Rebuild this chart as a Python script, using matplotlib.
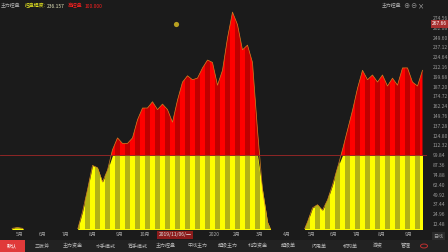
import numpy as np
import matplotlib
matplotlib.use("Agg")
import matplotlib.pyplot as plt
from matplotlib.path import Path

plt.rcParams['font.family'] = ['Noto Sans CJK SC', 'DejaVu Sans']

# control level, one value every ~5 px (mid-Apr 2019 .. mid-Sep 2020)
level = [0, 0, 7, 8, 7, 0, 0, 0, 0, 0, 0, 0, 0, 0, 0, 5,
         28, 56, 87, 84, 66, 81, 107, 122, 115, 115, 122, 145,
         160, 160, 168, 158, 165, 158, 142, 170, 193, 201, 196, 198,
         211, 221, 218, 189, 208, 249, 282, 266, 234, 240, 218, 132,
         56, 15, 0, 0, 0, 0, 0, 0, 0, 15, 33, 37, 30, 43, 62, 84,
         107, 132, 157, 185, 208, 196, 202, 193, 202, 188, 198, 189,
         211, 211, 193, 188, 208]
threshold = 100.0
marker_pos = (34.6, 267)

month_pos = [3.4, 8, 12.6, 18, 23.4, 28.4, 42.4, 46.8, 51.4, 56.8, 61.8, 66.2, 70.8, 75.8, 81.2]
month_labels = ['5月', '6月', '7月', '8月', '9月', '10月', '2020', '2月', '3月', '4月',
                '5月', '6月', '7月', '8月', '9月']
cursor_date = '2019/11/06/一'
cursor_pos = 34.5

yticks = [round(12.48 * k, 2) for k in range(1, 23)]
cursor_value = '267.66'

tabs = ['三板斧', '主力资金', '水手模式', '筹手模式', '主力控盘', '中线主力', '超级主力',
        '北向资金', '超级单', '闪电单', '机构单', '游资', '管理']
tab_px = [42, 73, 106, 138, 166, 197, 228, 258, 288, 319, 350, 378, 406]

BG = '#1b1b1b'
W, H = 448, 252

fig = plt.figure(figsize=(W / 100, H / 100), dpi=100, facecolor=BG)
ax = fig.add_axes([0, (H - 229) / H, 427 / W, (229 - 8) / H])
ax.set_facecolor(BG)
for s in ax.spines.values():
    s.set_visible(False)

v = np.array(level, dtype=float)
x = np.arange(len(v))
low = np.minimum(v, threshold)

yel = ax.fill_between(x, 0, low, color='#ffff00', lw=0, zorder=2)
red = ax.fill_between(x, threshold, v, where=v > threshold, interpolate=True,
                      color='#ff0000', lw=0, zorder=2)

yel_path = Path.make_compound_path(*yel.get_paths())
red_path = Path.make_compound_path(*red.get_paths())

# darker stripes
for i in range(1, len(v), 2):
    if v[i] <= 0:
        continue
    b = ax.bar(x[i], 400, width=1.0, bottom=0, color='#b4b414', lw=0, zorder=3)
    b[0].set_clip_path(yel_path, ax.transData)
    b2 = ax.bar(x[i], 400, width=1.0, bottom=0, color='#c00000', lw=0, zorder=3)
    b2[0].set_clip_path(red_path, ax.transData)

ax.plot(x, v, color='#d08020', lw=0.5, zorder=4)
ax.axhline(threshold, color='#a02828', lw=0.6, zorder=5)
ax.scatter([marker_pos[0]], [marker_pos[1]], s=14, color='#b8a020', zorder=6, lw=0)

ax.set_xlim(-0.5, 427 / 5 - 0.5)
ax.set_ylim(6.1, 287.2)
ax.set_xticks([])
ax.yaxis.tick_right()
ax.set_yticks(yticks)
ax.set_yticklabels(['%.2f' % t for t in yticks], fontsize=3.6, color='#9a9a9a')
ax.tick_params(axis='y', length=0, pad=4)

ax.text(1.012, 267.0, cursor_value, transform=ax.get_yaxis_transform(), fontsize=3.6,
        color='white', va='center', ha='left',
        bbox=dict(boxstyle='square,pad=0.25', fc='#a83030', ec='none'))

# date row
date_ax = fig.add_axes([0, (H - 239) / H, 427 / W, 10 / H])
date_ax.set_facecolor(BG)
date_ax.set_xlim(ax.get_xlim())
date_ax.set_ylim(0, 1)
date_ax.axis('off')
for p, lab in zip(month_pos, month_labels):
    date_ax.text(p, 0.45, lab, fontsize=3.6, color='#a8a8a8', ha='center', va='center')
date_ax.text(cursor_pos, 0.45, cursor_date, fontsize=3.6, color='#e0e0e0', ha='center', va='center',
             bbox=dict(boxstyle='square,pad=0.3', fc='#8c1c1c', ec='none'))

# header
hy = 1 - 6 / H
fig.text(1 / W, hy, '主力控盘', fontsize=3.5, color='#b0b0b0', va='center')
fig.text(25 / W, hy, '控盘程度:', fontsize=3.5, color='#e0e020', va='center')
fig.text(47 / W, hy, '236.157', fontsize=3.5, color='#e8e8c0', va='center')
fig.text(68 / W, hy, '高控盘', fontsize=3.5, color='#ff2020', va='center')
fig.text(85 / W, hy, '100.000', fontsize=3.5, color='#ff2020', va='center')
fig.text(382 / W, hy, '主力控盘', fontsize=3.5, color='#b0b0b0', va='center')
fig.text(406 / W, hy, '⊕', fontsize=4.5, color='#909090', va='center', ha='center')
fig.text(413 / W, hy, '⊖', fontsize=4.5, color='#909090', va='center', ha='center')
fig.text(421 / W, hy, '×', fontsize=4.5, color='#c0c0c0', va='center', ha='center')

# tab row
fig.patches.append(plt.Rectangle((0, 0), 1, 12 / H, transform=fig.transFigure,
                                 fc='#222222', ec='none', zorder=0))
fig.patches.append(plt.Rectangle((0, 0), 25 / W, 12 / H, transform=fig.transFigure,
                                 fc='#e03a3a', ec='none', zorder=1))
fig.text(12 / W, 6 / H, '默认', fontsize=3.6, color='white', ha='center', va='center')
for p, lab in zip(tab_px, tabs):
    fig.text(p / W, 6 / H, lab, fontsize=3.6, color='#b8b8b8', ha='center', va='center')
fig.text(438 / W, 1 - 236 / H, '日线', fontsize=3.6, color='#a0a0a0', ha='center', va='center',
         bbox=dict(boxstyle='square,pad=0.3', fc='#2a2a2a', ec='none'))
fig.patches.append(plt.Circle((424 / W, 6 / H), 3.5 / W, transform=fig.transFigure,
                              fc='none', ec='#c03030', lw=0.7))

fig.savefig('out.png', dpi=100, facecolor=BG)
